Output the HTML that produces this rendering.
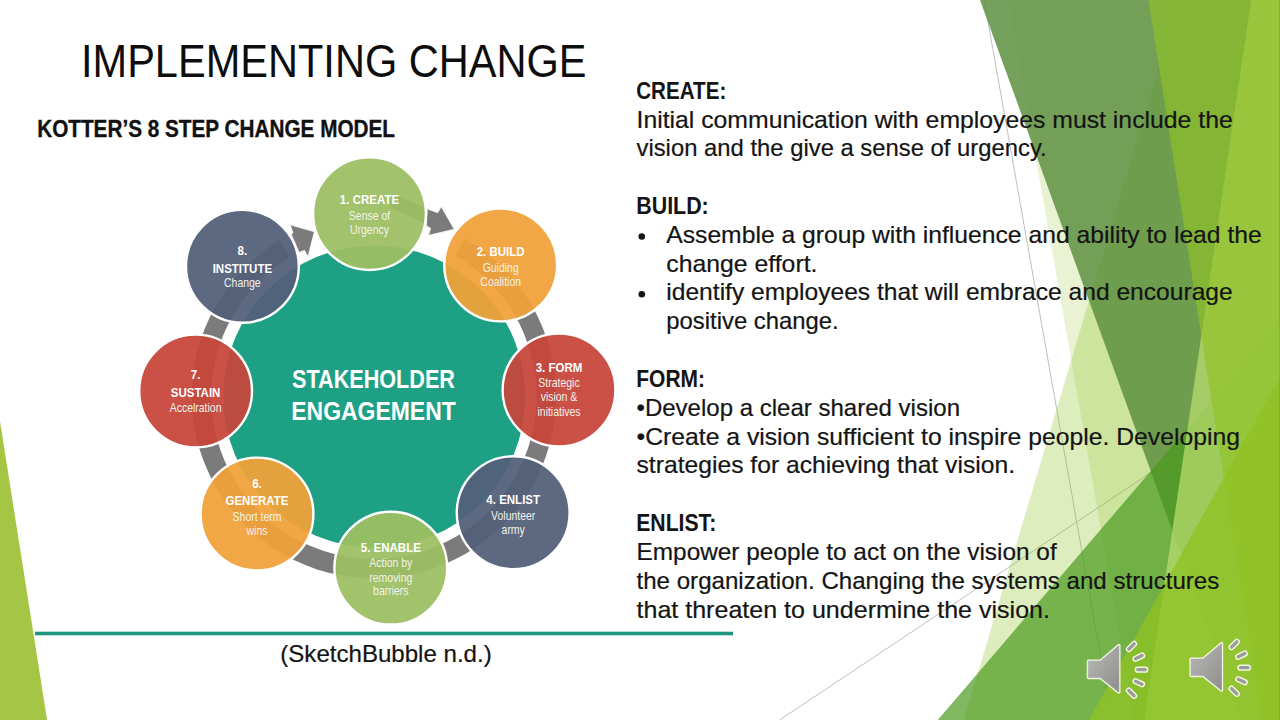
<!DOCTYPE html>
<html><head><meta charset="utf-8"><style>
html,body{margin:0;padding:0;background:#fff;}
body{width:1280px;height:720px;overflow:hidden;position:relative;}
svg{position:absolute;left:0;top:0;font-family:"Liberation Sans",sans-serif;}
</style></head><body>
<svg width="1280" height="720" viewBox="0 0 1280 720">
<defs><linearGradient id="spk" x1="0" y1="0" x2="1" y2="1"><stop offset="0" stop-color="#B8B8B6"/><stop offset="1" stop-color="#8E8F8C"/></linearGradient></defs>
<rect width="1280" height="720" fill="#FFFFFF"/>
<line x1="984" y1="-1" x2="1112" y2="721" stroke="#BFBFBF" stroke-width="1"/>
<line x1="1280" y1="386.5" x2="779.6" y2="720" stroke="#BFBFBF" stroke-width="1"/>
<polygon points="1178.7,0.0 1280.0,0.0 1280.0,720.0 963.9,720.0" fill="#90C226" fill-opacity="0.3"/>
<polygon points="1008.2,0.0 1280.0,0.0 1280.0,720.0 1134.3,720.0" fill="#90C226" fill-opacity="0.2"/>
<polygon points="980.0,0.0 1280.0,0.0 1280.0,720.0 1241.0,720.0" fill="#5E9040" fill-opacity="0.85"/>
<polygon points="1280.0,320.0 1280.0,720.0 937.8,720.0" fill="#4A9A1E" fill-opacity="0.7"/>
<polygon points="1251.2,0.0 1280.0,0.0 1280.0,720.0 1144.2,720.0" fill="#BCE070" fill-opacity="0.7"/>
<polygon points="1148.4,0.0 1280.0,0.0 1280.0,720.0 1262.0,720.0" fill="#90C226" fill-opacity="0.65"/>
<polygon points="1280.0,376.9 1280.0,720.0 1088.9,720.0" fill="#90C226" fill-opacity="0.8"/>
<polygon points="0.0,421.3 0.0,720.0 47.1,720.0" fill="#A4C644" fill-opacity="1.0"/>
<rect x="1279" y="0" width="1" height="720" fill="#80AC30" fill-opacity="0.8"/>
<circle cx="374.3" cy="396.6" r="151" fill="#1EA084"/>
<polygon points="465.0,238.5 475.1,244.8 484.8,251.7 493.9,259.2 502.6,267.4 510.8,276.0 518.3,285.2 525.2,294.8 531.5,304.9 537.2,315.4 542.1,326.2 546.3,337.3 549.8,348.7 552.5,360.2 554.5,372.0 555.7,383.8 556.1,395.7 555.8,407.5 554.6,419.4 552.7,431.1 550.1,442.7 546.7,454.1 542.6,465.2 537.7,476.1 532.2,486.6 525.9,496.7 519.1,506.4 511.6,515.6 503.5,524.3 494.9,532.5 485.8,540.1 476.1,547.1 466.1,553.4 455.7,559.1 444.9,564.1 433.8,568.4 422.4,571.9 410.9,574.7 399.2,576.7 387.4,578.0 375.5,578.5 363.6,578.2 351.8,577.2 340.0,575.3 328.4,572.7 317.0,569.4 305.9,565.3 295.0,560.5 284.5,555.0 274.3,548.9 264.6,542.1 255.3,534.6 246.5,526.6 238.3,518.0 230.7,508.9 223.6,499.3 217.2,489.3 211.5,478.9 206.5,468.1 202.1,457.1 198.5,445.8 195.7,434.2 193.6,422.5 192.3,410.7 191.7,398.8 191.9,387.0 192.9,375.1 194.7,363.4 197.2,351.8 200.5,340.3 204.5,329.2 209.3,318.3 214.7,307.7 220.8,297.5 227.6,287.7 235.0,278.4 242.9,269.6 251.5,261.4 260.5,253.7 270.1,246.6 280.1,240.1 290.2,256.9 281.2,262.7 272.7,269.0 264.7,275.9 257.0,283.2 249.9,291.1 243.3,299.4 237.3,308.1 231.8,317.2 227.0,326.7 222.7,336.4 219.2,346.4 216.2,356.6 214.0,366.9 212.4,377.4 211.5,388.0 211.3,398.6 211.8,409.2 213.0,419.7 214.9,430.1 217.4,440.4 220.6,450.5 224.5,460.4 229.0,470.0 234.1,479.3 239.8,488.3 246.1,496.8 252.9,504.9 260.2,512.6 268.1,519.7 276.3,526.4 285.0,532.5 294.1,538.0 303.5,542.9 313.2,547.1 323.1,550.8 333.3,553.8 343.7,556.1 354.2,557.7 364.7,558.6 375.3,558.9 385.9,558.5 396.5,557.3 406.9,555.5 417.2,553.0 427.3,549.9 437.2,546.1 446.9,541.6 456.2,536.5 465.1,530.9 473.7,524.6 481.9,517.9 489.6,510.6 496.8,502.8 503.5,494.6 509.6,485.9 515.1,476.9 520.1,467.5 524.4,457.8 528.1,447.9 531.1,437.7 533.5,427.4 535.2,416.9 536.2,406.3 536.5,395.7 536.1,385.1 535.0,374.6 533.3,364.1 530.8,353.8 527.7,343.7 524.0,333.7 519.6,324.1 514.6,314.8 509.0,305.8 502.8,297.1 496.0,289.0 488.8,281.2 481.0,274.0 472.8,267.3 464.2,261.1 455.2,255.5" fill="#7B7B7B"/>
<polygon points="393,193.5 427.8,208.5 426.7,224 389,207" fill="#7B7B7B"/>
<polygon points="427.8,209.4 437.8,213.3 441.3,207.6 453.6,228.9 429.1,234.7 431.1,228.3 426.7,225.6" fill="#F2F2F2" stroke="#F2F2F2" stroke-width="2.2" stroke-linejoin="round"/>
<polygon points="427.8,209.4 437.8,213.3 441.3,207.6 453.6,228.9 429.1,234.7 431.1,228.3 426.7,225.6" fill="#7B7B7B"/>
<polygon points="313.8,232.1 290.8,225.4 293.3,232.5 291.7,234.6 299.2,251.7 304.6,250.0 307.9,255.4" fill="#F2F2F2" stroke="#F2F2F2" stroke-width="2.2" stroke-linejoin="round"/>
<polygon points="313.8,232.1 290.8,225.4 293.3,232.5 291.7,234.6 299.2,251.7 304.6,250.0 307.9,255.4" fill="#7B7B7B"/>
<circle cx="369.5" cy="213.6" r="56.4" fill="#9CBE62" fill-opacity="0.94" stroke="#FFFFFF" stroke-width="2.4"/>
<circle cx="500.7" cy="265.0" r="56.4" fill="#F0A139" fill-opacity="0.94" stroke="#FFFFFF" stroke-width="2.4"/>
<circle cx="559.0" cy="390.0" r="56.4" fill="#C8463B" fill-opacity="0.94" stroke="#FFFFFF" stroke-width="2.4"/>
<circle cx="513.2" cy="512.7" r="56.4" fill="#536079" fill-opacity="0.94" stroke="#FFFFFF" stroke-width="2.4"/>
<circle cx="390.8" cy="568.1" r="56.4" fill="#9CBE62" fill-opacity="0.94" stroke="#FFFFFF" stroke-width="2.4"/>
<circle cx="257.0" cy="514.0" r="56.4" fill="#F0A139" fill-opacity="0.94" stroke="#FFFFFF" stroke-width="2.4"/>
<circle cx="195.6" cy="391.0" r="56.4" fill="#C8463B" fill-opacity="0.94" stroke="#FFFFFF" stroke-width="2.4"/>
<circle cx="242.4" cy="266.3" r="56.4" fill="#536079" fill-opacity="0.94" stroke="#FFFFFF" stroke-width="2.4"/>
<text x="369.5" y="204.2" text-anchor="middle" font-weight="bold" font-size="13.4" fill="#FFFFFF" transform="translate(369.5,0) scale(0.86,1) translate(-369.5,0)">1. CREATE</text>
<text x="369.5" y="220.0" text-anchor="middle" font-size="11.9" fill="#F2F2EC" transform="translate(369.5,0) scale(0.88,1) translate(-369.5,0)">Sense of</text>
<text x="369.5" y="234.2" text-anchor="middle" font-size="11.9" fill="#F2F2EC" transform="translate(369.5,0) scale(0.88,1) translate(-369.5,0)">Urgency</text>
<text x="500.7" y="256.2" text-anchor="middle" font-weight="bold" font-size="13.4" fill="#FFFFFF" transform="translate(500.7,0) scale(0.86,1) translate(-500.7,0)">2. BUILD</text>
<text x="500.7" y="271.9" text-anchor="middle" font-size="11.9" fill="#F2F2EC" transform="translate(500.7,0) scale(0.88,1) translate(-500.7,0)">Guiding</text>
<text x="500.7" y="285.9" text-anchor="middle" font-size="11.9" fill="#F2F2EC" transform="translate(500.7,0) scale(0.88,1) translate(-500.7,0)">Coalition</text>
<text x="559.0" y="372.5" text-anchor="middle" font-weight="bold" font-size="13.4" fill="#FFFFFF" transform="translate(559.0,0) scale(0.86,1) translate(-559.0,0)">3. FORM</text>
<text x="559.0" y="387.1" text-anchor="middle" font-size="11.9" fill="#F2F2EC" transform="translate(559.0,0) scale(0.88,1) translate(-559.0,0)">Strategic</text>
<text x="559.0" y="401.3" text-anchor="middle" font-size="11.9" fill="#F2F2EC" transform="translate(559.0,0) scale(0.88,1) translate(-559.0,0)">vision &amp;</text>
<text x="559.0" y="415.9" text-anchor="middle" font-size="11.9" fill="#F2F2EC" transform="translate(559.0,0) scale(0.88,1) translate(-559.0,0)">initiatives</text>
<text x="513.2" y="504.5" text-anchor="middle" font-weight="bold" font-size="13.4" fill="#FFFFFF" transform="translate(513.2,0) scale(0.86,1) translate(-513.2,0)">4. ENLIST</text>
<text x="513.2" y="520.0" text-anchor="middle" font-size="11.9" fill="#F2F2EC" transform="translate(513.2,0) scale(0.88,1) translate(-513.2,0)">Volunteer</text>
<text x="513.2" y="534.0" text-anchor="middle" font-size="11.9" fill="#F2F2EC" transform="translate(513.2,0) scale(0.88,1) translate(-513.2,0)">army</text>
<text x="390.8" y="552.1" text-anchor="middle" font-weight="bold" font-size="13.4" fill="#FFFFFF" transform="translate(390.8,0) scale(0.86,1) translate(-390.8,0)">5. ENABLE</text>
<text x="390.8" y="567.5" text-anchor="middle" font-size="11.9" fill="#F2F2EC" transform="translate(390.8,0) scale(0.88,1) translate(-390.8,0)">Action by</text>
<text x="390.8" y="581.7" text-anchor="middle" font-size="11.9" fill="#F2F2EC" transform="translate(390.8,0) scale(0.88,1) translate(-390.8,0)">removing</text>
<text x="390.8" y="595.2" text-anchor="middle" font-size="11.9" fill="#F2F2EC" transform="translate(390.8,0) scale(0.88,1) translate(-390.8,0)">barriers</text>
<text x="257.0" y="487.7" text-anchor="middle" font-weight="bold" font-size="13.4" fill="#FFFFFF" transform="translate(257.0,0) scale(0.86,1) translate(-257.0,0)">6.</text>
<text x="257.0" y="505.2" text-anchor="middle" font-weight="bold" font-size="13.4" fill="#FFFFFF" transform="translate(257.0,0) scale(0.86,1) translate(-257.0,0)">GENERATE</text>
<text x="257.0" y="520.7" text-anchor="middle" font-size="11.9" fill="#F2F2EC" transform="translate(257.0,0) scale(0.88,1) translate(-257.0,0)">Short term</text>
<text x="257.0" y="535.3" text-anchor="middle" font-size="11.9" fill="#F2F2EC" transform="translate(257.0,0) scale(0.88,1) translate(-257.0,0)">wins</text>
<text x="195.6" y="379.3" text-anchor="middle" font-weight="bold" font-size="13.4" fill="#FFFFFF" transform="translate(195.6,0) scale(0.86,1) translate(-195.6,0)">7.</text>
<text x="195.6" y="396.8" text-anchor="middle" font-weight="bold" font-size="13.4" fill="#FFFFFF" transform="translate(195.6,0) scale(0.86,1) translate(-195.6,0)">SUSTAIN</text>
<text x="195.6" y="412.4" text-anchor="middle" font-size="11.9" fill="#F2F2EC" transform="translate(195.6,0) scale(0.88,1) translate(-195.6,0)">Accelration</text>
<text x="242.4" y="255.2" text-anchor="middle" font-weight="bold" font-size="13.4" fill="#FFFFFF" transform="translate(242.4,0) scale(0.86,1) translate(-242.4,0)">8.</text>
<text x="242.4" y="272.7" text-anchor="middle" font-weight="bold" font-size="13.4" fill="#FFFFFF" transform="translate(242.4,0) scale(0.86,1) translate(-242.4,0)">INSTITUTE</text>
<text x="242.4" y="287.3" text-anchor="middle" font-size="11.9" fill="#F2F2EC" transform="translate(242.4,0) scale(0.88,1) translate(-242.4,0)">Change</text>
<text x="373.5" y="387.9" text-anchor="middle" font-weight="bold" font-size="25" fill="#FFFFFF" textLength="163" lengthAdjust="spacingAndGlyphs">STAKEHOLDER</text>
<text x="373.5" y="420" text-anchor="middle" font-weight="bold" font-size="25" fill="#FFFFFF" textLength="164.5" lengthAdjust="spacingAndGlyphs">ENGAGEMENT</text>
<text x="81" y="77.3" font-size="47" fill="#0D0D0D" textLength="505.5" lengthAdjust="spacingAndGlyphs">IMPLEMENTING CHANGE</text>
<text x="37.2" y="136.9" font-size="23.5" font-weight="bold" fill="#111111" stroke="#111111" stroke-width="0.35" textLength="357.8" lengthAdjust="spacingAndGlyphs">KOTTER’S 8 STEP CHANGE MODEL</text>
<text x="636.25" y="98.75" font-size="23.6" font-weight="bold" fill="#141414" stroke="#141414" stroke-width="0" textLength="90.0" lengthAdjust="spacingAndGlyphs">CREATE:</text>
<text x="636.5" y="127.57" font-size="23.6" fill="#141414" stroke="#141414" stroke-width="0.2" textLength="596.2" lengthAdjust="spacingAndGlyphs">Initial communication with employees must include the</text>
<text x="636.5" y="156.39" font-size="23.6" fill="#141414" stroke="#141414" stroke-width="0.2" textLength="410.2" lengthAdjust="spacingAndGlyphs">vision and the give a sense of urgency.</text>
<text x="636.25" y="214.03" font-size="23.6" font-weight="bold" fill="#141414" stroke="#141414" stroke-width="0" textLength="72.5" lengthAdjust="spacingAndGlyphs">BUILD:</text>
<text x="666.25" y="242.85" font-size="23.6" fill="#141414" stroke="#141414" stroke-width="0.2" textLength="595.5" lengthAdjust="spacingAndGlyphs">Assemble a group with influence and ability to lead the</text>
<text x="666.25" y="271.67" font-size="23.6" fill="#141414" stroke="#141414" stroke-width="0.2" textLength="151.2" lengthAdjust="spacingAndGlyphs">change effort.</text>
<text x="666.25" y="300.49" font-size="23.6" fill="#141414" stroke="#141414" stroke-width="0.2" textLength="566.5" lengthAdjust="spacingAndGlyphs">identify employees that will embrace and encourage</text>
<text x="666.25" y="329.31" font-size="23.6" fill="#141414" stroke="#141414" stroke-width="0.2" textLength="172.5" lengthAdjust="spacingAndGlyphs">positive change.</text>
<text x="636.25" y="386.95" font-size="23.6" font-weight="bold" fill="#141414" stroke="#141414" stroke-width="0" textLength="68.8" lengthAdjust="spacingAndGlyphs">FORM:</text>
<text x="636.5" y="415.77" font-size="23.6" fill="#141414" stroke="#141414" stroke-width="0.2" textLength="323.5" lengthAdjust="spacingAndGlyphs">•Develop a clear shared vision</text>
<text x="636.5" y="444.59" font-size="23.6" fill="#141414" stroke="#141414" stroke-width="0.2" textLength="603.5" lengthAdjust="spacingAndGlyphs">•Create a vision sufficient to inspire people. Developing</text>
<text x="636.5" y="473.41" font-size="23.6" fill="#141414" stroke="#141414" stroke-width="0.2" textLength="378.5" lengthAdjust="spacingAndGlyphs">strategies for achieving that vision.</text>
<text x="636.25" y="531.05" font-size="23.6" font-weight="bold" fill="#141414" stroke="#141414" stroke-width="0" textLength="80.0" lengthAdjust="spacingAndGlyphs">ENLIST:</text>
<text x="636.5" y="559.87" font-size="23.6" fill="#141414" stroke="#141414" stroke-width="0.2" textLength="420.2" lengthAdjust="spacingAndGlyphs">Empower people to act on the vision of</text>
<text x="636.5" y="588.69" font-size="23.6" fill="#141414" stroke="#141414" stroke-width="0.2" textLength="582.8" lengthAdjust="spacingAndGlyphs">the organization. Changing the systems and structures</text>
<text x="636.5" y="617.51" font-size="23.6" fill="#141414" stroke="#141414" stroke-width="0.2" textLength="413.5" lengthAdjust="spacingAndGlyphs">that threaten to undermine the vision.</text>
<circle cx="641.8" cy="236.5" r="3.3" fill="#141414"/>
<circle cx="641.8" cy="294.2" r="3.3" fill="#141414"/>
<rect x="35" y="631.7" width="698" height="3.6" fill="#1C9683"/>
<text x="280.3" y="661.7" font-size="23.6" fill="#141414" stroke="#141414" stroke-width="0.2" textLength="211.4" lengthAdjust="spacingAndGlyphs">(SketchBubble n.d.)</text>
<polygon points="1088.3,661.1 1100.4,661.1 1118.9,645.5 1118.9,692.2 1100.4,677.6 1088.3,677.6" fill="#F2F6E2" stroke="#F2F6E2" stroke-width="3.2" stroke-linejoin="round"/>
<polygon points="1088.3,661.1 1100.4,661.1 1118.9,645.5 1118.9,692.2 1100.4,677.6 1088.3,677.6" fill="url(#spk)" stroke="url(#spk)" stroke-width="0.6" stroke-linejoin="round"/>
<line x1="1128.8727922061357" y1="649.1272077938642" x2="1134.1272077938643" y2="643.8727922061358" stroke="#F2F6E2" stroke-width="6.2" stroke-linecap="round"/>
<line x1="1128.8727922061357" y1="649.1272077938642" x2="1134.1272077938643" y2="643.8727922061358" stroke="#9A9C98" stroke-width="3.3" stroke-linecap="round"/>
<line x1="1135.516512874377" y1="658.808238592142" x2="1142.0834871256232" y2="655.591761407858" stroke="#F2F6E2" stroke-width="6.2" stroke-linecap="round"/>
<line x1="1135.516512874377" y1="658.808238592142" x2="1142.0834871256232" y2="655.591761407858" stroke="#9A9C98" stroke-width="3.3" stroke-linecap="round"/>
<line x1="1137.7" y1="669.7" x2="1145.3" y2="669.7" stroke="#F2F6E2" stroke-width="6.2" stroke-linecap="round"/>
<line x1="1137.7" y1="669.7" x2="1145.3" y2="669.7" stroke="#9A9C98" stroke-width="3.3" stroke-linecap="round"/>
<line x1="1135.5420851604522" y1="681.2372627251009" x2="1142.057914839548" y2="684.1627372748991" stroke="#F2F6E2" stroke-width="6.2" stroke-linecap="round"/>
<line x1="1135.5420851604522" y1="681.2372627251009" x2="1142.057914839548" y2="684.1627372748991" stroke="#9A9C98" stroke-width="3.3" stroke-linecap="round"/>
<line x1="1128.8727922061357" y1="690.5727922061358" x2="1134.1272077938643" y2="695.8272077938642" stroke="#F2F6E2" stroke-width="6.2" stroke-linecap="round"/>
<line x1="1128.8727922061357" y1="690.5727922061358" x2="1134.1272077938643" y2="695.8272077938642" stroke="#9A9C98" stroke-width="3.3" stroke-linecap="round"/>
<polygon points="1191.0,659.1 1203.1,659.1 1221.6,643.5 1221.6,690.2 1203.1,675.6 1191.0,675.6" fill="#F2F6E2" stroke="#F2F6E2" stroke-width="3.2" stroke-linejoin="round"/>
<polygon points="1191.0,659.1 1203.1,659.1 1221.6,643.5 1221.6,690.2 1203.1,675.6 1191.0,675.6" fill="url(#spk)" stroke="url(#spk)" stroke-width="0.6" stroke-linejoin="round"/>
<line x1="1231.5727922061358" y1="647.1272077938642" x2="1236.8272077938643" y2="641.8727922061358" stroke="#F2F6E2" stroke-width="6.2" stroke-linecap="round"/>
<line x1="1231.5727922061358" y1="647.1272077938642" x2="1236.8272077938643" y2="641.8727922061358" stroke="#9A9C98" stroke-width="3.3" stroke-linecap="round"/>
<line x1="1238.216512874377" y1="656.808238592142" x2="1244.7834871256232" y2="653.591761407858" stroke="#F2F6E2" stroke-width="6.2" stroke-linecap="round"/>
<line x1="1238.216512874377" y1="656.808238592142" x2="1244.7834871256232" y2="653.591761407858" stroke="#9A9C98" stroke-width="3.3" stroke-linecap="round"/>
<line x1="1240.4" y1="667.7" x2="1248.0" y2="667.7" stroke="#F2F6E2" stroke-width="6.2" stroke-linecap="round"/>
<line x1="1240.4" y1="667.7" x2="1248.0" y2="667.7" stroke="#9A9C98" stroke-width="3.3" stroke-linecap="round"/>
<line x1="1238.2420851604522" y1="679.2372627251009" x2="1244.757914839548" y2="682.1627372748991" stroke="#F2F6E2" stroke-width="6.2" stroke-linecap="round"/>
<line x1="1238.2420851604522" y1="679.2372627251009" x2="1244.757914839548" y2="682.1627372748991" stroke="#9A9C98" stroke-width="3.3" stroke-linecap="round"/>
<line x1="1231.5727922061358" y1="688.5727922061358" x2="1236.8272077938643" y2="693.8272077938642" stroke="#F2F6E2" stroke-width="6.2" stroke-linecap="round"/>
<line x1="1231.5727922061358" y1="688.5727922061358" x2="1236.8272077938643" y2="693.8272077938642" stroke="#9A9C98" stroke-width="3.3" stroke-linecap="round"/>
</svg>
</body></html>
